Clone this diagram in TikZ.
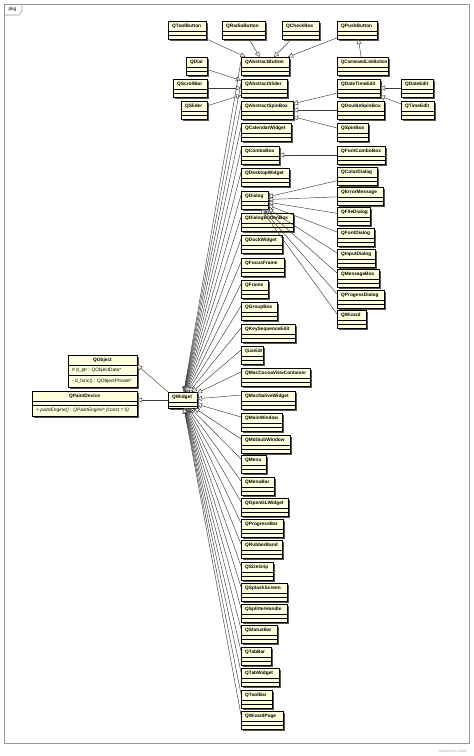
\documentclass[tikz,border=0pt]{standalone}
\usepackage{fontspec}
\usepackage{graphicx}
\setmainfont{Liberation Sans}
\usetikzlibrary{arrows.meta,calc}
\definecolor{clsfill}{RGB}{255,255,221}
\definecolor{framec}{RGB}{150,150,150}
\definecolor{linec}{RGB}{60,60,60}
\definecolor{shadowc}{RGB}{85,85,75}
\tikzset{
  umlbox/.style={draw=black, line width=0.6pt, fill=clsfill, inner sep=0pt, outer sep=0pt, rectangle},
  umlname/.style={font=\fontsize{4.8}{5}\selectfont\bfseries, inner sep=0pt},
  umltxt/.style={font=\fontsize{4.8}{5}\selectfont, inner sep=0pt},
  umlsep/.style={draw=black, line width=0.4pt},
  gen/.style={draw=linec, line width=0.45pt, -{Triangle[length=5pt, width=5pt, fill=white]}},
}
\newcommand\fitname[2]{\sbox0{#2}\ifdim\wd0>#1pt\resizebox{#1pt}{\ht0}{\usebox0}\else\usebox0\fi}
\newcommand\umlcls[5]{%
  \fill[shadowc] ({#2+1.5},{-#3-1.5}) rectangle ({#4+1.5},{-#5-1.5});
  \node[umlbox, minimum width={#4-#2}, minimum height={#5-#3}] (#1) at ({(#2+#4)/2},{-(#3+#5)/2}) {};
  \pgfmathsetmacro\umlw{#4-#2-5}%
  \node[umlname, anchor=west] at ([xshift=4,yshift=-5]#1.north west) {\fitname{\umlw}{#1}};
  \draw[umlsep] ([yshift=-10]#1.north west) -- ([yshift=-10]#1.north east);
  \draw[umlsep] ([yshift=-14]#1.north west) -- ([yshift=-14]#1.north east);
}
\begin{document}
\begin{tikzpicture}[x=1pt,y=1pt]
\useasboundingbox (0,0) rectangle (474,-756);
\fill[white] (0,0) rectangle (474,-756);
% frame
\draw[framec, line width=0.8pt] (4,-4) rectangle (469,-743);
\draw[framec, line width=0.6pt] (4,-15) -- (19,-15) -- (22,-11) -- (22,-4);
\node[umltxt] (pkg) at (12.5,-9.5) {pkg};
\node[text=black!35, font=\fontsize{3.5}{4}\selectfont, anchor=east, inner sep=0pt] (astah) at (467,-751.5) {powered by Astah};

% top rows
\umlcls{QToolButton}{168}{21}{206}{39}
\umlcls{QRadioButton}{222}{21}{265}{39}
\umlcls{QCheckBox}{282}{21}{319}{39}
\umlcls{QPushButton}{337}{21}{377}{39}
\umlcls{QDial}{186}{57}{207}{75}
\umlcls{QAbstractButton}{241}{57}{289}{75}
\umlcls{QCommandLinkButton}{337}{57}{388}{75}
\umlcls{QScrollBar}{173}{79}{207}{97}
\umlcls{QAbstractSlider}{241}{79}{287}{97}
\umlcls{QDateTimeEdit}{337}{79}{380}{97}
\umlcls{QDateEdit}{401}{79}{433}{97}
\umlcls{QSlider}{181}{101}{207}{119}
\umlcls{QAbstractSpinBox}{241}{101}{293}{119}
\umlcls{QDoubleSpinBox}{337}{101}{384}{119}
\umlcls{QTimeEdit}{401}{101}{434}{119}
\umlcls{QCalendarWidget}{241}{123}{291}{141}
\umlcls{QSpinBox}{337}{123}{368}{141}
\umlcls{QComboBox}{241}{146}{279}{164}
\umlcls{QFontComboBox}{337}{146}{385}{164}
\umlcls{QDesktopWidget}{241}{168}{289}{186}
\umlcls{QColorDialog}{337}{167}{377}{185}
\umlcls{QErrorMessage}{337}{187}{383}{205}
\umlcls{QDialog}{241}{191}{268}{209}
\umlcls{QFileDialog}{337}{207}{370}{225}
\umlcls{QDialogButtonBox}{241}{213}{293}{231}
\umlcls{QFontDialog}{337}{228}{374}{246}
\umlcls{QDockWidget}{241}{235}{282}{253}
\umlcls{QInputDialog}{337}{249}{375}{267}
\umlcls{QFocusFrame}{241}{258}{284}{276}
\umlcls{QMessageBox}{337}{269}{379}{287}
\umlcls{QFrame}{241}{280}{268}{298}
\umlcls{QProgessDialog}{337}{290}{384}{308}
\umlcls{QGroupBox}{241}{302}{277}{320}
\umlcls{QWizard}{337}{310}{366}{328}
\umlcls{QKeySequenceEdit}{241}{324}{295}{342}
\umlcls{QLineEdit}{241}{346}{263}{364}
\umlcls{QMacCocoaViewContainer}{241}{368}{310}{386}
\umlcls{QMacNativeWidget}{241}{391}{295}{409}
\umlcls{QMainWindow}{241}{413}{282}{431}
\umlcls{QMdiSubWindow}{241}{435}{290}{453}
\umlcls{QMenu}{241}{455}{266}{473}
\umlcls{QMenuBar}{241}{477}{274}{495}
\umlcls{QOpenGLWidget}{241}{498}{288}{516}
\umlcls{QProgressBar}{241}{519}{283}{537}
\umlcls{QRubberBand}{241}{540}{282}{558}
\umlcls{QSizeGrip}{241}{562}{273}{580}
\umlcls{QSplashScreen}{241}{583}{287}{601}
\umlcls{QSplitterHandle}{241}{604}{287}{622}
\umlcls{QStatusBar}{241}{625}{277}{643}
\umlcls{QTabBar}{241}{647}{271}{665}
\umlcls{QTabWidget}{241}{668}{279}{686}
\umlcls{QToolBar}{241}{690}{272}{708}
\umlcls{QWizardPage}{241}{711}{283}{729}

% QWidget
\umlcls{QWidget}{168}{392}{197}{408}

% QObject
\fill[shadowc] (69.5,-356.5) rectangle (138.5,-388.5);
\node[umlbox, minimum width=69, minimum height=32] (QObject) at (102.5,-371) {};
\node[umlname] at ([yshift=-5]QObject.north) {QObject};
\draw[umlsep] ([yshift=-10]QObject.north west) -- ([yshift=-10]QObject.north east);
\draw[umlsep] ([yshift=-20.5]QObject.north west) -- ([yshift=-20.5]QObject.north east);
\node[umltxt, anchor=west] (objattr) at ([xshift=4,yshift=-15.2]QObject.north west) {\# d\_ptr : QObjectData*};
\node[umltxt, anchor=west] (objop) at ([xshift=4,yshift=-26]QObject.north west) {- d\_func() : QObjectPrivate*};

% QPaintDevice
\fill[shadowc] (33.5,-392.5) rectangle (138.5,-417.5);
\node[umlbox, minimum width=105, minimum height=25] (QPaintDevice) at (84.5,-403.5) {};
\node[umlname] at ([yshift=-5]QPaintDevice.north) {QPaintDevice};
\draw[umlsep] ([yshift=-10.5]QPaintDevice.north west) -- ([yshift=-10.5]QPaintDevice.north east);
\draw[umlsep] ([yshift=-14]QPaintDevice.north west) -- ([yshift=-14]QPaintDevice.north east);
\node[umltxt, anchor=west] (pdop) at ([xshift=4,yshift=-19.5]QPaintDevice.north west) {\itshape + paintEngine() : QPaintEngine* \{const = 0\}};

% generalizations
\draw[gen] (QToolButton) -- (QAbstractButton);
\draw[gen] (QRadioButton) -- (QAbstractButton);
\draw[gen] (QCheckBox) -- (QAbstractButton);
\draw[gen] (QPushButton) -- (QAbstractButton);
\draw[gen] (QCommandLinkButton) -- (QPushButton);
\draw[gen] (QDial) -- (QAbstractSlider);
\draw[gen] (QScrollBar) -- (QAbstractSlider);
\draw[gen] (QSlider) -- (QAbstractSlider);
\draw[gen] (QDateTimeEdit) -- (QAbstractSpinBox);
\draw[gen] (QDoubleSpinBox) -- (QAbstractSpinBox);
\draw[gen] (QSpinBox) -- (QAbstractSpinBox);
\draw[gen] (QDateEdit) -- (QDateTimeEdit);
\draw[gen] (QTimeEdit) -- (QDateTimeEdit);
\draw[gen] (QFontComboBox) -- (QComboBox);

\draw[gen] (QColorDialog) -- (QDialog);
\draw[gen] (QErrorMessage) -- (QDialog);
\draw[gen] (QFileDialog) -- (QDialog);
\foreach \c in {QFontDialog,QInputDialog,QMessageBox,QProgessDialog,QWizard}
  \draw[gen] ([yshift=-4]\c.north west) -- (QDialog);

\foreach \c in {QAbstractButton,QAbstractSlider,QAbstractSpinBox,QCalendarWidget,QComboBox,
  QDesktopWidget,QDialog,QDialogButtonBox,QDockWidget,QFocusFrame,QFrame,QGroupBox,
  QKeySequenceEdit,QLineEdit,QMacCocoaViewContainer,QMacNativeWidget,QMainWindow,
  QMdiSubWindow,QMenu,QMenuBar,QOpenGLWidget,QProgressBar,QRubberBand,QSizeGrip,
  QSplashScreen,QSplitterHandle,QStatusBar,QTabBar,QTabWidget,QToolBar,QWizardPage}
  \draw[gen] ([yshift=-4]\c.north west) -- (QWidget);

\draw[gen] (QWidget.north west) -- ([yshift=6]QObject.east);
\draw[gen] (QWidget.west) -- (QWidget.west -| QPaintDevice.east);
\end{tikzpicture}
\end{document}
